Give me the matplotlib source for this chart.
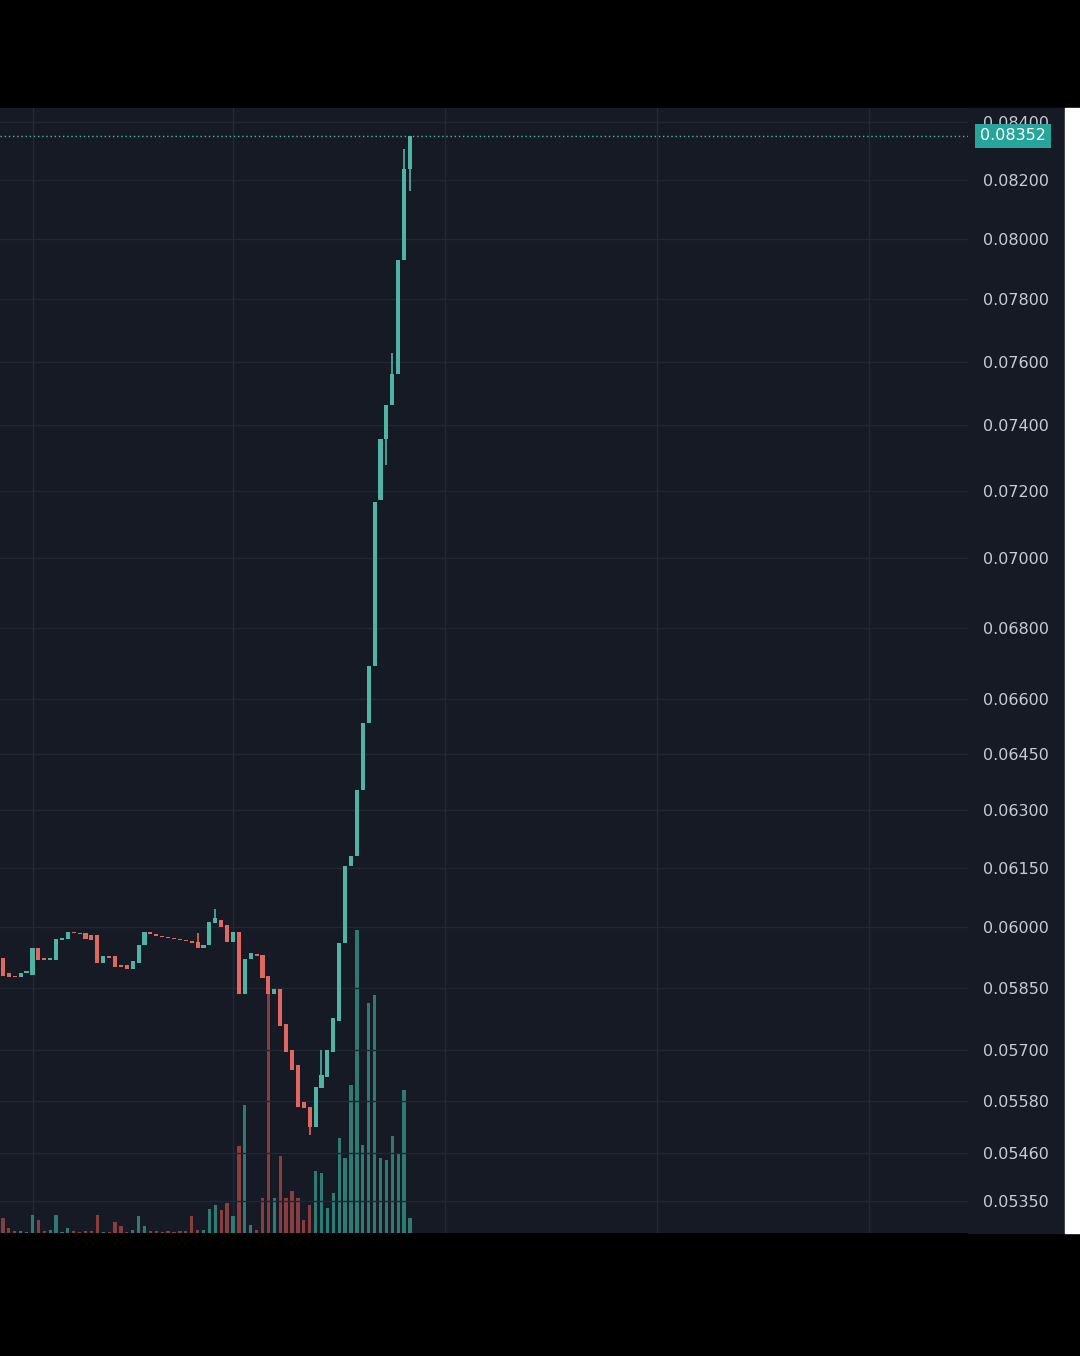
import matplotlib
matplotlib.use("Agg")
import matplotlib.pyplot as plt
from matplotlib.patches import Rectangle
import numpy as np

opens = [0.05922,0.05887,0.05878,0.05877,0.05885,0.05882,0.05947,0.05922,0.05917,0.05917,
         0.05967,0.05970,0.05987,0.05985,0.05985,0.05980,0.05980,0.05912,0.05927,0.05927,
         0.05905,0.05905,0.05895,0.05912,0.05955,0.05987,0.05982,0.05978,0.05975,0.05972,
         0.05970,0.05967,0.05965,0.05962,0.05947,0.05955,0.06010,0.06018,0.06005,0.05962,
         0.05987,0.05834,0.05920,0.05933,0.05930,0.05880,0.05834,0.05847,0.05762,0.05699,
         0.05664,0.05578,0.05566,0.05519,0.05610,0.05636,0.05694,0.05769,0.05960,0.06155,
         0.06181,0.06353,0.06535,0.06691,0.07173,0.07357,0.07462,0.07562,0.07930,0.08238]
closes = [0.05880,0.05877,0.05876,0.05887,0.05890,0.05947,0.05917,0.05917,0.05922,0.05970,
          0.05972,0.05987,0.05985,0.05983,0.05970,0.05967,0.05912,0.05927,0.05922,0.05902,
          0.05900,0.05895,0.05915,0.05955,0.05987,0.05982,0.05978,0.05975,0.05972,0.05970,
          0.05967,0.05965,0.05960,0.05947,0.05955,0.06013,0.06023,0.06000,0.05962,0.05987,
          0.05834,0.05920,0.05935,0.05928,0.05875,0.05834,0.05847,0.05757,0.05694,0.05652,
          0.05566,0.05564,0.05519,0.05613,0.05641,0.05699,0.05776,0.05960,0.06155,0.06181,
          0.06353,0.06535,0.06691,0.07167,0.07357,0.07462,0.07562,0.07930,0.08238,0.08352]
highs_extra = {33: 0.05985, 36: 0.06045, 54: 0.05699, 66: 0.07626, 68: 0.08307}
lows_extra = {52: 0.05501, 65: 0.07280, 69: 0.08163}
volumes = [45,15,5,5,2,55,40,5,10,55,2,15,5,2,5,5,55,2,2,32,20,2,8,50,22,
           5,5,2,5,2,5,5,50,10,10,72,85,70,90,50,260,385,25,10,105,720,105,230,105,125,
           105,40,85,185,180,75,120,285,225,445,910,265,690,715,225,220,290,240,430,45]
price_ticks = [0.0535,0.0546,0.0558,0.0570,0.0585,0.0600,0.0615,0.0630,0.0645,
               0.0660,0.0680,0.0700,0.0720,0.0740,0.0760,0.0780,0.0800,0.0820,0.0840]
last_price = 0.08352

n = len(opens)
x = np.arange(n)
highs = [highs_extra.get(i, max(opens[i], closes[i])) for i in range(n)]
lows = [lows_extra.get(i, min(opens[i], closes[i])) for i in range(n)]
up = [closes[i] >= opens[i] for i in range(n)]
GREEN, RED = "#4fb3a5", "#e2675f"
VG, VR = "#2f7a72", "#8a3d3e"
BG = "#161a25"

W, H = 1080, 1356
fig = plt.figure(figsize=(W/100, H/100), dpi=100, facecolor="black")
fig.patches.append(Rectangle((968/W, 123/H), 97/W, 1125/H, transform=fig.transFigure, color=BG, zorder=0))
fig.patches.append(Rectangle((1065/W, 123/H), 15/W, 1125/H, transform=fig.transFigure, color="white", zorder=0))
ax = fig.add_axes([0, 123/H, 968/W, 1125/H])
axv = ax.twinx()
ax.set_zorder(2)
axv.set_zorder(1)
ax.patch.set_alpha(0)
axv.patch.set_facecolor(BG); axv.patch.set_visible(True)

ax.set_yscale("log")
ax.set_ylim(0.05280, 0.08450)
ax.set_xlim(-0.5, 163.6)
axv.set_ylim(0, 3375)

for xv in [5.1, 39.0, 74.9, 110.9, 146.8]:
    axv.axvline(xv, color="#242937", lw=1, zorder=0)
for t in price_ticks:
    ax.axhline(t, color="#222735", lw=1, zorder=0)

axv.bar(x, volumes, width=0.55, color=[VG if u else VR for u in up], zorder=1)
ax.vlines(x, lows, highs, colors=[GREEN if u else RED for u in up], lw=1.2, zorder=3)
bottoms = [min(opens[i], closes[i]) for i in range(n)]
heights = [max(abs(closes[i]-opens[i]), 0.000025) for i in range(n)]
ax.bar(x, heights, bottom=bottoms, width=0.7, color=[GREEN if u else RED for u in up], zorder=4)

ax.axhline(last_price, color=GREEN, lw=1, ls=(0, (1, 2)), zorder=2)

ax.yaxis.tick_right()
ax.set_yticks(price_ticks)
ax.set_yticklabels([f"{t:.5f}" for t in price_ticks])
ax.yaxis.set_minor_locator(matplotlib.ticker.NullLocator())
ax.tick_params(axis="y", length=0, pad=11, labelsize=11.5, labelcolor="#c9ccd4")
ax.set_xticks([])
axv.set_yticks([]); axv.set_xticks([])
for a in (ax, axv):
    for s in a.spines.values():
        s.set_visible(False)

ax.annotate(f"{last_price:.5f}", xy=(1.0, last_price), xycoords=("axes fraction", "data"),
            xytext=(45, 0), textcoords="offset pixels", ha="center", va="center",
            fontsize=11.5, color="white", zorder=10, annotation_clip=False,
            bbox=dict(boxstyle="square,pad=0.3", fc="#26a69a", ec="none"))

fig.savefig("out.png", dpi=100, facecolor="black")
